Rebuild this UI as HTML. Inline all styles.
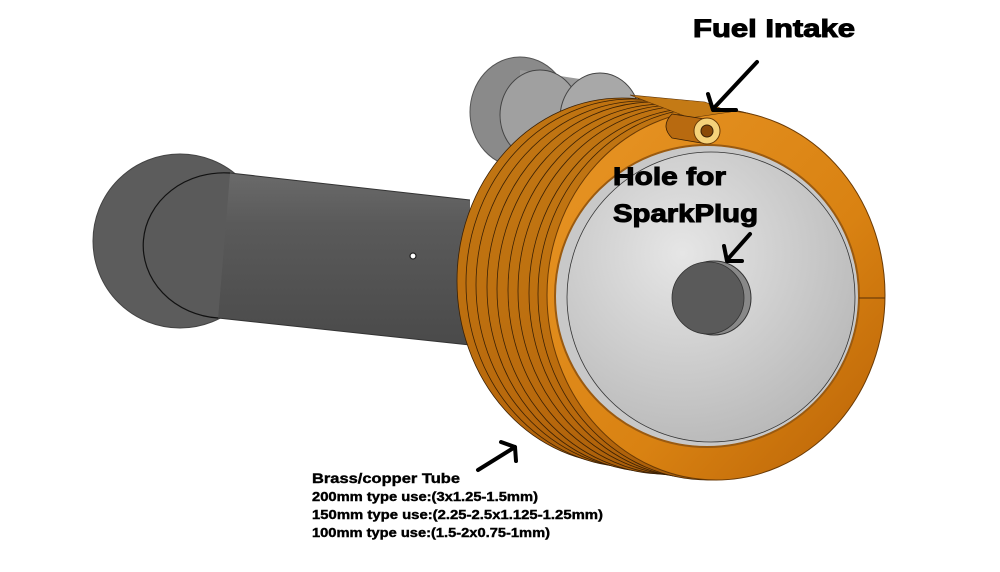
<!DOCTYPE html>
<html><head><meta charset="utf-8"><style>html,body{margin:0;padding:0;background:#fff}svg{display:block}</style></head><body>
<svg width="1000" height="572" viewBox="0 0 1000 572" xmlns="http://www.w3.org/2000/svg">
<defs>
<linearGradient id="gt" x1="0" y1="0" x2="0" y2="1"><stop offset="0" stop-color="#6a6a6a"/><stop offset="0.3" stop-color="#5a5a5a"/><stop offset="1" stop-color="#4a4a4a"/></linearGradient>
<radialGradient id="gd" cx="0.4" cy="0.35" r="0.7"><stop offset="0" stop-color="#e6e6e6"/><stop offset="1" stop-color="#b8b8b8"/></radialGradient>
<linearGradient id="go" x1="0" y1="0" x2="1" y2="1"><stop offset="0" stop-color="#c47a14"/><stop offset="0.5" stop-color="#b8680c"/><stop offset="1" stop-color="#8a4a06"/></linearGradient>
<linearGradient id="gr" x1="0" y1="0" x2="1" y2="1"><stop offset="0" stop-color="#e89525"/><stop offset="0.6" stop-color="#d98212"/><stop offset="1" stop-color="#b86206"/></linearGradient>
</defs>
<!-- back tube -->
<ellipse cx="520" cy="112" rx="50" ry="55" fill="#8a8a8a" stroke="#555"/>
<path d="M520 70 L620 85 L620 170 L520 160 Z" fill="#9a9a9a"/>
<ellipse cx="540" cy="115" rx="40" ry="45" fill="#a0a0a0" stroke="#444" stroke-width="1"/>
<ellipse cx="600" cy="118" rx="40" ry="45" fill="#a8a8a8" stroke="#444" stroke-width="1"/>
<!-- left tube -->
<ellipse cx="180" cy="241" rx="87" ry="87" fill="#5c5c5c" stroke="#444"/>
<path d="M230 173 L470 200 L470 345 L218 318 Z" fill="url(#gt)"/>
<line x1="230" y1="173" x2="470" y2="200" stroke="#333" stroke-width="1"/>
<line x1="218" y1="318" x2="470" y2="345" stroke="#333" stroke-width="1"/>
<path d="M230 173 A80 72 0 0 0 218 318" fill="#5a5a5a" stroke="#111" stroke-width="1.2"/>
<circle cx="413" cy="256" r="3" fill="#fff" stroke="#222" stroke-width="1.2"/>
<!-- coil body -->
<g fill="url(#go)" stroke="#3a2005" stroke-width="0.8">
<ellipse cx="622" cy="281" rx="165" ry="183"/>
<ellipse cx="632" cy="283" rx="166" ry="184"/>
<ellipse cx="643" cy="285" rx="167" ry="184"/>
<ellipse cx="654" cy="287" rx="167" ry="185"/>
<ellipse cx="665" cy="289" rx="168" ry="185"/>
<ellipse cx="676" cy="290" rx="168" ry="185"/>
<ellipse cx="687" cy="291" rx="169" ry="185"/>
<ellipse cx="698" cy="293" rx="169" ry="185"/>
<ellipse cx="708" cy="294" rx="170" ry="186"/>
</g>
<!-- front ring -->
<ellipse cx="716" cy="295" rx="169" ry="185" fill="url(#gr)" stroke="#6a3a05" stroke-width="1"/>
<ellipse cx="707" cy="296" rx="152" ry="151" fill="#c8c8c8" stroke="#9a5a10" stroke-width="2"/>
<ellipse cx="711" cy="297" rx="144" ry="145" fill="url(#gd)" stroke="#333" stroke-width="0.8"/>
<line x1="859" y1="298" x2="885" y2="298" stroke="#5a3005" stroke-width="1"/>
<!-- spark hole -->
<circle cx="714" cy="298" r="37" fill="#888" stroke="#333"/>
<circle cx="708" cy="298" r="36" fill="#5a5a5a" stroke="#333" stroke-width="0.8"/>
<!-- fuel tube -->
<path d="M630 95 L705 102 L730 112 L690 118 Z" fill="#c47a15" stroke="#5a3005" stroke-width="0.6"/>
<path d="M672 114 L705 119 L707 144 L672 138 Q660 126 672 114 Z" fill="#b86a10" stroke="#3a2005" stroke-width="0.8"/>
<circle cx="707" cy="131" r="13" fill="#f5d27a" stroke="#6a3a05" stroke-width="1"/>
<circle cx="707" cy="131" r="6" fill="#8a4a08" stroke="#3a2005" stroke-width="1"/>
<!-- arrows -->
<g stroke="#000" stroke-width="4" fill="none" stroke-linecap="round" stroke-linejoin="round">
<path d="M757 62 L713 109"/><path d="M708 94 L713 110 L736 110"/>
<path d="M750 234 L727 260"/><path d="M724 246 L727 261 L742 261"/>
<path d="M478 470 L515 447"/><path d="M501 442 L515 447 L516 461"/>
</g>
<g font-family="Liberation Sans, Arial, sans-serif" font-weight="bold" fill="#000" stroke="#000">
<text x="693" y="37" font-size="25" stroke-width="1" textLength="162" lengthAdjust="spacingAndGlyphs">Fuel Intake</text>
<text x="613" y="185" font-size="25" stroke-width="1" textLength="113" lengthAdjust="spacingAndGlyphs">Hole for</text>
<text x="613" y="222" font-size="25" stroke-width="1" textLength="145" lengthAdjust="spacingAndGlyphs">SparkPlug</text>
<text x="312" y="483" font-size="14" stroke-width="0.4" textLength="148" lengthAdjust="spacingAndGlyphs">Brass/copper Tube</text>
<text x="312" y="501" font-size="12.5" stroke-width="0.4" textLength="226" lengthAdjust="spacingAndGlyphs">200mm type use:(3x1.25-1.5mm)</text>
<text x="312" y="519" font-size="12.5" stroke-width="0.4" textLength="291" lengthAdjust="spacingAndGlyphs">150mm type use:(2.25-2.5x1.125-1.25mm)</text>
<text x="312" y="537" font-size="12.5" stroke-width="0.4" textLength="238" lengthAdjust="spacingAndGlyphs">100mm type use:(1.5-2x0.75-1mm)</text>
</g>
</svg>
</body></html>
